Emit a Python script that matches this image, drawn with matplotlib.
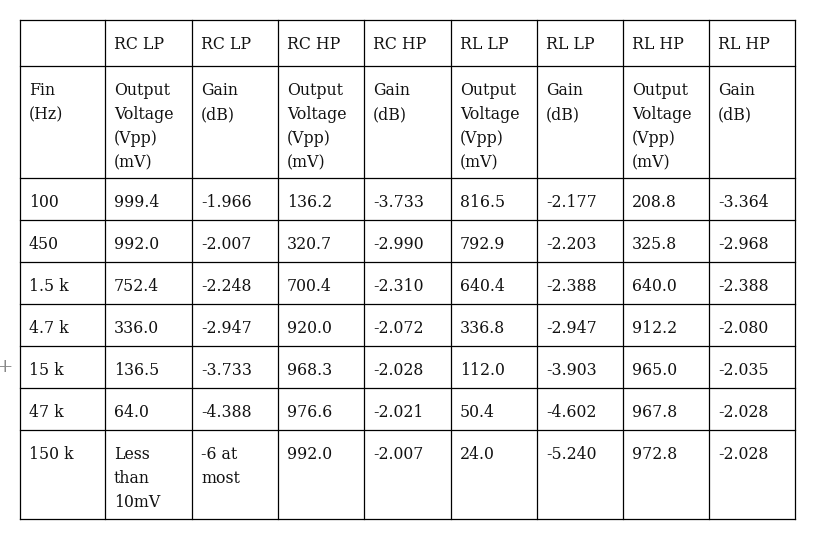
import matplotlib
matplotlib.use('Agg')
import matplotlib.pyplot as plt

plt.rcParams['font.family'] = ['DejaVu Serif']

# table content
header_top = ['', 'RC LP', 'RC LP', 'RC HP', 'RC HP', 'RL LP', 'RL LP', 'RL HP', 'RL HP']
header_sub = ['Fin\n(Hz)', 'Output\nVoltage\n(Vpp)\n(mV)', 'Gain\n(dB)',
              'Output\nVoltage\n(Vpp)\n(mV)', 'Gain\n(dB)',
              'Output\nVoltage\n(Vpp)\n(mV)', 'Gain\n(dB)',
              'Output\nVoltage\n(Vpp)\n(mV)', 'Gain\n(dB)']
freqs = ['100', '450', '1.5 k', '4.7 k', '15 k', '47 k', '150 k']
rc_lp_v = ['999.4', '992.0', '752.4', '336.0', '136.5', '64.0', 'Less\nthan\n10mV']
rc_lp_g = ['-1.966', '-2.007', '-2.248', '-2.947', '-3.733', '-4.388', '-6 at\nmost']
rc_hp_v = ['136.2', '320.7', '700.4', '920.0', '968.3', '976.6', '992.0']
rc_hp_g = ['-3.733', '-2.990', '-2.310', '-2.072', '-2.028', '-2.021', '-2.007']
rl_lp_v = ['816.5', '792.9', '640.4', '336.8', '112.0', '50.4', '24.0']
rl_lp_g = ['-2.177', '-2.203', '-2.388', '-2.947', '-3.903', '-4.602', '-5.240']
rl_hp_v = ['208.8', '325.8', '640.0', '912.2', '965.0', '967.8', '972.8']
rl_hp_g = ['-3.364', '-2.968', '-2.388', '-2.080', '-2.035', '-2.028', '-2.028']

rows = [header_top, header_sub] + [list(r) for r in zip(
    freqs, rc_lp_v, rc_lp_g, rc_hp_v, rc_hp_g, rl_lp_v, rl_lp_g, rl_hp_v, rl_hp_g)]

# grid lines in pixels
col_x = [20, 105, 192, 278, 364, 451, 537, 623, 709, 795]
row_y = [20, 66, 178, 220, 262, 304, 346, 388, 430, 519]

fig = plt.figure(figsize=(8.17, 5.36), dpi=100)
ax = fig.add_axes([0, 0, 1, 1])
ax.set_xlim(0, 817)
ax.set_ylim(536, 0)
ax.axis('off')

for x in col_x:
    ax.plot([x, x], [row_y[0], row_y[-1]], color='black', lw=0.9)
for y in row_y:
    ax.plot([col_x[0], col_x[-1]], [y, y], color='black', lw=0.9)

for i, row in enumerate(rows):
    for j, txt in enumerate(row):
        ax.text(col_x[j] + 9, row_y[i] + 16, txt, fontsize=11.3,
                ha='left', va='top', linespacing=1.55, color='#111111')

ax.text(5, 367, '+', fontsize=14, color='#888888', ha='center', va='center')

fig.savefig('out.png', dpi=100)
